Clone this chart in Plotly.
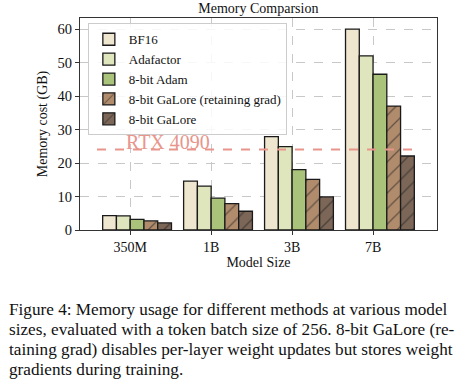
import plotly.graph_objects as go

categories = ["350M", "1B", "3B", "7B"]
methods = ["BF16", "Adafactor", "8-bit Adam", "8-bit GaLore (retaining grad)", "8-bit GaLore"]
bf16 = [4.3, 14.6, 27.9, 60.0]
adafactor = [4.2, 13.1, 24.9, 52.0]
adam8 = [3.2, 9.5, 18.0, 46.5]
galore_retain = [2.7, 7.9, 15.1, 37.0]
galore8 = [2.1, 5.6, 9.9, 22.1]
series = [bf16, adafactor, adam8, galore_retain, galore8]
colors = ["#efe6cf", "#dfe6bd", "#a9c47a", "#b08c6d", "#7b6658"]
hatches = ["", "", "", "/", "/"]
rtx_limit = 24
rtx_label = "RTX 4090"
yticks = [0, 10, 20, 30, 40, 50, 60]
caption_lines = [
    "Figure 4: Memory usage for different methods at various model",
    "sizes, evaluated with a token batch size of 256. 8-bit GaLore (re-",
    "taining grad) disables per-layer weight updates but stores weight",
    "gradients during training.",
]

W = 0.17
SERIF = "Liberation Serif, Times New Roman, serif"
FIG_W, FIG_H = 474, 386
ML, MR, MT, MB = 80, 37, 18, 156

fig = go.Figure()
for j, (name, vals, col, h) in enumerate(zip(methods, series, colors, hatches)):
    marker = dict(color=col, line=dict(color="#1a1a1a", width=1.3))
    if h:
        marker["pattern"] = dict(shape=h, fgcolor="#1a1a1a", bgcolor=col, size=11, solidity=0.12)
    fig.add_trace(go.Bar(
        x=categories, y=vals, name=name, width=W, offset=(j - 2) * W,
        marker=marker,
    ))

fig.add_shape(type="line", xref="x", yref="y", x0=-0.41, x1=3.57, y0=rtx_limit, y1=rtx_limit,
              line=dict(color="#e8958c", width=2, dash="dash"))
fig.add_annotation(x=-0.08, y=rtx_limit, xref="x", yref="y", text=rtx_label, showarrow=False,
                   xanchor="left", yanchor="bottom", yshift=-5,
                   font=dict(family=SERIF, size=20, color="#e8958c"))

for k, line in enumerate(caption_lines):
    fig.add_annotation(x=7, y=309 + k * 20.2, xref="paper", yref="paper", text=line, showarrow=False,
                       xanchor="left", yanchor="middle",
                       font=dict(family=SERIF, size=17.2, color="#111"))

fig.update_layout(
    width=FIG_W, height=FIG_H,
    margin=dict(l=ML, r=MR, t=MT, b=MB),
    paper_bgcolor="white", plot_bgcolor="white",
    barmode="overlay",
    font=dict(family=SERIF, size=14, color="#111"),
    title=dict(text="Memory Comparsion", x=0.545, xanchor="center", yref="container",
               y=1 - 8 / FIG_H, yanchor="middle",
               font=dict(family=SERIF, size=14)),
    showlegend=True,
    legend=dict(x=0.022, y=0.975, xanchor="left", yanchor="top",
                bgcolor="rgba(255,255,255,0.85)", bordercolor="#cccccc", borderwidth=1,
                font=dict(family=SERIF, size=13), tracegroupgap=0, itemwidth=30),
)
fig.update_xaxes(range=[-0.62, 3.79], showline=True, linecolor="#333", linewidth=1.3, mirror=True,
                 ticks="outside", ticklen=4, tickcolor="#333",
                 showgrid=True, gridcolor="#c8c8c8", griddash="dash", gridwidth=1,
                 title=dict(text="Model Size", font=dict(family=SERIF, size=14), standoff=3),
                 tickfont=dict(family=SERIF, size=14))
fig.update_yaxes(range=[0, 63.3], tickvals=yticks, showline=True, linecolor="#333", linewidth=1.3, mirror=True,
                 ticks="outside", ticklen=4, tickcolor="#333",
                 showgrid=True, gridcolor="#c8c8c8", griddash="dash", gridwidth=1, zeroline=False,
                 title=dict(text="Memory cost (GB)", font=dict(family=SERIF, size=14), standoff=6),
                 tickfont=dict(family=SERIF, size=14.5))

# caption positions given in page pixels: convert to paper coords
plot_w = FIG_W - ML - MR
plot_h = FIG_H - MT - MB
for ann in fig.layout.annotations:
    if ann.xref == "paper":
        ann.x = (ann.x - ML) / plot_w
        ann.y = (FIG_H - MB - ann.y) / plot_h

fig.write_html("out.html", config={"displayModeBar": False},
               post_script="document.body.style.margin='0';document.body.style.padding='0';")
